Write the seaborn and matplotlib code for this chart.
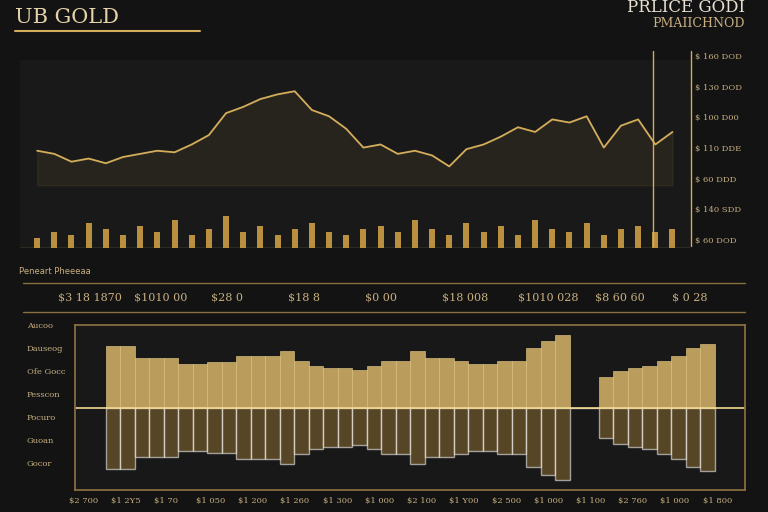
import matplotlib
matplotlib.use("Agg")
import matplotlib.pyplot as plt
import numpy as np
import pandas as pd
import seaborn as sns

# --- data ---
price_x = list(range(38))
price = [62, 60, 55, 57, 54, 58, 60, 62, 61, 66, 72, 86, 90, 95, 98, 100, 88, 84, 76, 64, 66, 60, 62, 59,
         52, 63, 66, 71, 77, 74, 82, 80, 84, 64, 78, 82, 66, 74]
volume = [3, 5, 4, 8, 6, 4, 7, 5, 9, 4, 6, 10, 5, 7, 4, 6, 8, 5, 4, 6, 7, 5, 9, 6,
          4, 8, 5, 7, 4, 9, 6, 5, 8, 4, 6, 7, 5, 6]
right_ticks = ["$ 160 DOD", "$ 130 DOD", "$ 100 D00", "$ 110 DDE", "$ 60 DDD", "$ 140 SDD", "$ 60 DOD"]
strip_labels = ["$3 18 1870", "$1010 00", "$28 0", "$18 8", "$0 00", "$18 008", "$1010 028", "$8 60 60", "$ 0 28"]
bar_vals = [60, 60, 48, 48, 48, 42, 42, 44, 44, 50, 50, 50, 55, 45, 40, 38, 38, 36, 40, 45, 45,
            55, 48, 48, 45, 42, 42, 45, 45, 58, 65, 70, 0, 0, 30, 35, 38, 40, 45, 50, 58, 62]
left_labels = ["Aucoo", "Dauseog", "Ofe Gocc", "Pesscon", "Pocuro", "Guoan", "Gocor"]
bottom_ticks = ["$2 700", "$1 2Y5", "$1 70", "$1 050", "$1 200", "$1 260", "$1 300", "$1 000",
                "$2 100", "$1 Y00", "$2 500", "$1 000", "$1 100", "$2 760", "$1 000", "$1 800"]

bg = "#131313"
gold = "#d4ad5a"
sns.set_theme(style="dark", rc={"axes.facecolor": bg, "figure.facecolor": bg})
fig = plt.figure(figsize=(7.68, 5.12), dpi=100)

# top price chart
ax = fig.add_axes([0.026, 0.516, 0.872, 0.367])
ax.set_facecolor("#191919")
ax.set_ylim(0, 120)
ax.set_xlim(-1, 38)
axv = ax.twinx()
axv.patch.set_visible(False)
sns.barplot(x=price_x, y=volume, ax=axv, color="#b8903f", width=0.35, linewidth=0, saturation=1)
axv.set_ylim(0, 60)
axv.set_xlim(-1, 38)
axv.set_yticks([]); axv.set_xticks([]); axv.set_ylabel("")
for s in axv.spines.values():
    s.set_visible(False)
axl = ax.twinx()
axl.patch.set_visible(False)
sns.lineplot(x=price_x, y=price, ax=axl, color=gold, lw=1.3)
axl.fill_between(price_x, price, 40, color=gold, alpha=0.08)
axl.set_ylim(0, 120)
axl.set_xlim(-1, 38)
for a in (ax, axl):
    a.set_xticks([]); a.set_yticks([]); a.set_ylabel("")
    for s in a.spines.values():
        s.set_visible(False)
ax.axhline(0, color="#8a7040", lw=1)

# right axis labels
for i, t in enumerate(right_ticks):
    fig.text(0.905, 0.885 - i * 0.06, t, color="#c8b080", fontsize=6, family="DejaVu Serif")
fig.add_artist(plt.Line2D([0.9, 0.9], [0.52, 0.9], color=gold, lw=1))
fig.add_artist(plt.Line2D([0.85, 0.85], [0.52, 0.9], color=gold, lw=1))

fig.text(0.02, 0.965, "UB GOLD", color="#e6d2a8", fontsize=15, family="DejaVu Serif", va="center")
fig.add_artist(plt.Line2D([0.02, 0.26], [0.94, 0.94], color=gold, lw=1.5))
fig.text(0.97, 0.985, "PRLICE GODI", color="#e8e0d0", fontsize=12, family="DejaVu Serif", ha="right", va="center")
fig.text(0.97, 0.955, "PMAIICHNOD", color="#c8b080", fontsize=9, family="DejaVu Serif", ha="right", va="center")

# middle strip
fig.text(0.025, 0.465, "Peneart Pheeeaa", color="#c8b080", fontsize=6)
fig.add_artist(plt.Line2D([0.03, 0.97], [0.447, 0.447], color="#8a7040", lw=1))
fig.add_artist(plt.Line2D([0.03, 0.97], [0.39, 0.39], color="#8a7040", lw=1))
for i, t in enumerate(strip_labels):
    fig.text(0.075 + i * 0.1, 0.418, t, color="#c8b080", fontsize=8, family="DejaVu Serif", va="center")

# bottom bar panel with reflection
ab = fig.add_axes([0.098, 0.043, 0.872, 0.322])
df = pd.DataFrame({"i": range(len(bar_vals)), "v": bar_vals})
sns.barplot(data=df, x="i", y="v", ax=ab, color="#c9a24e", width=1.0, linewidth=0.4, edgecolor="#e9cf8a")
ab.bar(df["i"], [-v for v in bar_vals], width=1.0, color="#8a6c30", alpha=0.55)
ab.set_ylim(-80, 80)
ab.axhline(0, color="#f0d890", lw=1.2)
ab.set_xticks([]); ab.set_yticks([]); ab.set_xlabel(""); ab.set_ylabel("")
ab.set_facecolor("#181818")
for s in ab.spines.values():
    s.set_color("#8a7040")
for i, t in enumerate(left_labels):
    fig.text(0.035, 0.36 - i * 0.045, t, color="#c8b080", fontsize=6, family="DejaVu Serif")
for i, t in enumerate(bottom_ticks):
    fig.text(0.09 + i * 0.055, 0.018, t, color="#c8b080", fontsize=6, family="DejaVu Serif")

fig.savefig("out.png", dpi=100, facecolor=bg)
